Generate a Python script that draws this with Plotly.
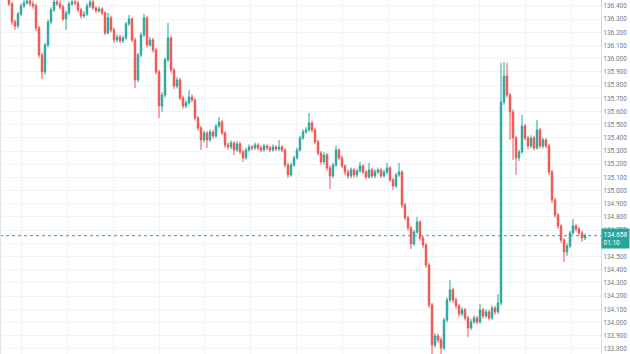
import plotly.graph_objects as go

opens = [
    136.600, 136.559, 136.521, 136.491, 136.415, 136.279, 136.248, 136.339, 136.400, 136.423,
    136.438, 136.415, 136.400, 136.233, 136.028, 135.900, 136.104, 136.279, 136.370, 136.430,
    136.415, 136.392, 136.301, 136.347, 136.415, 136.430, 136.423, 136.370, 136.324, 136.339,
    136.400, 136.430, 136.385, 136.362, 136.377, 136.347, 136.195, 136.309, 136.218, 136.142,
    136.165, 136.135, 136.157, 136.264, 136.301, 136.142, 135.839, 136.028, 136.180, 136.309,
    136.104, 136.142, 136.066, 135.900, 135.642, 135.725, 135.991, 136.157, 135.915, 135.793,
    135.839, 135.702, 135.642, 135.665, 135.710, 135.687, 135.551, 135.475, 135.384, 135.437,
    135.384, 135.445, 135.414, 135.490, 135.520, 135.437, 135.346, 135.331, 135.361, 135.308,
    135.354, 135.293, 135.248, 135.308, 135.331, 135.323, 135.346, 135.323, 135.308, 135.338,
    135.323, 135.308, 135.331, 135.316, 135.331, 135.308, 135.194, 135.119, 135.194, 135.248,
    135.308, 135.399, 135.445, 135.460, 135.513, 135.460, 135.369, 135.285, 135.217, 135.270,
    135.172, 135.111, 135.194, 135.308, 135.248, 135.187, 135.141, 135.111, 135.157, 135.119,
    135.149, 135.187, 135.141, 135.103, 135.157, 135.111, 135.141, 135.157, 135.111, 135.141,
    135.172, 135.081, 135.035, 135.119, 135.141, 134.891, 134.793, 134.717, 134.595, 134.686,
    134.762, 134.641, 134.588, 134.436, 134.133, 133.830, 133.898, 133.868, 133.807, 134.019,
    134.171, 134.247, 134.171, 134.126, 134.065, 134.095, 134.034, 133.959, 134.004, 134.034,
    134.004, 134.095, 134.050, 134.080, 134.034, 134.110, 134.080, 134.148, 135.672, 135.869,
    135.725, 135.596, 135.399, 135.248, 135.293, 135.490, 135.399, 135.338, 135.399, 135.323,
    135.460, 135.338, 135.384, 135.338, 135.141, 134.929, 134.815, 134.732, 134.626, 134.535,
    134.580, 134.679, 134.732, 134.709, 134.679, 134.641,
]

highs = [
    136.620, 136.575, 136.540, 136.505, 136.430, 136.295, 136.355, 136.420, 136.450, 136.470,
    136.460, 136.440, 136.420, 136.250, 136.045, 136.120, 136.295, 136.390, 136.460, 136.455,
    136.440, 136.410, 136.365, 136.435, 136.460, 136.465, 136.440, 136.385, 136.360, 136.420,
    136.460, 136.450, 136.400, 136.395, 136.390, 136.360, 136.347, 136.325, 136.235, 136.185,
    136.180, 136.175, 136.280, 136.332, 136.315, 136.160, 136.045, 136.200, 136.339, 136.325,
    136.165, 136.160, 136.080, 135.915, 135.745, 136.010, 136.271, 136.175, 135.930, 135.860,
    135.855, 135.720, 135.685, 135.763, 135.730, 135.700, 135.565, 135.490, 135.455, 135.450,
    135.465, 135.460, 135.505, 135.558, 135.535, 135.450, 135.365, 135.380, 135.375, 135.375,
    135.370, 135.310, 135.325, 135.350, 135.345, 135.365, 135.360, 135.340, 135.355, 135.350,
    135.340, 135.350, 135.345, 135.384, 135.345, 135.320, 135.210, 135.210, 135.265, 135.325,
    135.415, 135.465, 135.480, 135.589, 135.530, 135.475, 135.385, 135.300, 135.290, 135.285,
    135.190, 135.210, 135.338, 135.320, 135.265, 135.200, 135.160, 135.175, 135.170, 135.165,
    135.217, 135.200, 135.155, 135.210, 135.170, 135.160, 135.175, 135.170, 135.160, 135.210,
    135.185, 135.095, 135.135, 135.210, 135.155, 134.905, 134.810, 134.730, 134.700, 134.800,
    134.775, 134.655, 134.600, 134.450, 134.150, 133.920, 133.915, 133.885, 134.035, 134.190,
    134.323, 134.265, 134.190, 134.140, 134.115, 134.110, 134.050, 134.025, 134.055, 134.050,
    134.141, 134.110, 134.100, 134.095, 134.130, 134.125, 134.216, 135.968, 135.975, 135.968,
    135.740, 135.615, 135.415, 135.310, 135.574, 135.505, 135.415, 135.420, 135.415, 135.536,
    135.475, 135.400, 135.400, 135.355, 135.155, 134.945, 134.830, 134.745, 134.640, 134.600,
    134.695, 134.785, 134.750, 134.725, 134.695, 134.675,
]

lows = [
    136.540, 136.505, 136.470, 136.400, 136.255, 136.218, 136.230, 136.325, 136.385, 136.410,
    136.395, 136.380, 136.210, 136.005, 135.846, 135.880, 136.085, 136.260, 136.355, 136.400,
    136.375, 136.285, 136.218, 136.330, 136.400, 136.405, 136.350, 136.305, 136.310, 136.325,
    136.385, 136.370, 136.345, 136.350, 136.330, 136.180, 136.185, 136.200, 136.120, 136.125,
    136.115, 136.120, 136.145, 136.250, 136.125, 135.778, 135.820, 136.010, 136.165, 136.085,
    136.090, 136.045, 135.880, 135.551, 135.596, 135.705, 135.975, 135.895, 135.770, 135.775,
    135.685, 135.620, 135.625, 135.650, 135.670, 135.530, 135.455, 135.308, 135.365, 135.323,
    135.370, 135.395, 135.400, 135.475, 135.420, 135.325, 135.310, 135.315, 135.270, 135.295,
    135.275, 135.217, 135.235, 135.295, 135.305, 135.310, 135.305, 135.290, 135.295, 135.305,
    135.290, 135.295, 135.300, 135.300, 135.290, 135.175, 135.096, 135.105, 135.180, 135.235,
    135.295, 135.385, 135.430, 135.445, 135.440, 135.350, 135.265, 135.195, 135.200, 135.150,
    135.012, 135.095, 135.180, 135.230, 135.170, 135.120, 135.090, 135.095, 135.100, 135.100,
    135.135, 135.125, 135.085, 135.090, 135.095, 135.095, 135.125, 135.095, 135.100, 135.125,
    135.065, 135.005, 135.020, 135.105, 134.870, 134.775, 134.695, 134.558, 134.580, 134.670,
    134.620, 134.565, 134.415, 134.110, 133.746, 133.810, 133.845, 133.746, 133.790, 134.000,
    134.155, 134.150, 134.105, 134.045, 134.050, 134.015, 133.890, 133.940, 133.990, 133.985,
    133.990, 134.030, 134.035, 134.015, 134.020, 134.060, 134.065, 134.130, 135.650, 135.705,
    135.384, 135.232, 135.119, 135.225, 135.280, 135.380, 135.315, 135.320, 135.305, 135.310,
    135.320, 135.320, 135.320, 135.120, 134.905, 134.795, 134.710, 134.605, 134.459, 134.505,
    134.565, 134.665, 134.690, 134.660, 134.611, 134.625,
]

closes = [
    136.559, 136.521, 136.491, 136.415, 136.279, 136.248, 136.339, 136.400, 136.423, 136.438,
    136.415, 136.400, 136.233, 136.028, 135.900, 136.104, 136.279, 136.370, 136.430, 136.415,
    136.392, 136.301, 136.347, 136.415, 136.430, 136.423, 136.370, 136.324, 136.339, 136.400,
    136.430, 136.385, 136.362, 136.377, 136.347, 136.195, 136.309, 136.218, 136.142, 136.165,
    136.135, 136.157, 136.264, 136.301, 136.142, 135.839, 136.028, 136.180, 136.309, 136.104,
    136.142, 136.066, 135.900, 135.642, 135.725, 135.991, 136.157, 135.915, 135.793, 135.839,
    135.702, 135.642, 135.665, 135.710, 135.687, 135.551, 135.475, 135.384, 135.437, 135.384,
    135.445, 135.414, 135.490, 135.520, 135.437, 135.346, 135.331, 135.361, 135.308, 135.354,
    135.293, 135.248, 135.308, 135.331, 135.323, 135.346, 135.323, 135.308, 135.338, 135.323,
    135.308, 135.331, 135.316, 135.331, 135.308, 135.194, 135.119, 135.194, 135.248, 135.308,
    135.399, 135.445, 135.460, 135.513, 135.460, 135.369, 135.285, 135.217, 135.270, 135.172,
    135.111, 135.194, 135.308, 135.248, 135.187, 135.141, 135.111, 135.157, 135.119, 135.149,
    135.187, 135.141, 135.103, 135.157, 135.111, 135.141, 135.157, 135.111, 135.141, 135.172,
    135.081, 135.035, 135.119, 135.141, 134.891, 134.793, 134.717, 134.595, 134.686, 134.762,
    134.641, 134.588, 134.436, 134.133, 133.830, 133.898, 133.868, 133.807, 134.019, 134.171,
    134.247, 134.171, 134.126, 134.065, 134.095, 134.034, 133.959, 134.004, 134.034, 134.004,
    134.095, 134.050, 134.080, 134.034, 134.110, 134.080, 134.148, 135.672, 135.869, 135.725,
    135.596, 135.399, 135.248, 135.293, 135.490, 135.399, 135.338, 135.399, 135.323, 135.460,
    135.338, 135.384, 135.338, 135.141, 134.929, 134.815, 134.732, 134.626, 134.535, 134.580,
    134.679, 134.732, 134.709, 134.679, 134.641, 134.658,
]

bar_index = list(range(len(closes)))
last_price = 134.658
last_label = "134.658<br>01:10"

UP = "#26a69a"
DOWN = "#ef5350"

fig = go.Figure()
fig.add_trace(go.Candlestick(
    x=bar_index, open=opens, high=highs, low=lows, close=closes,
    increasing=dict(line=dict(color=UP, width=1), fillcolor=UP),
    decreasing=dict(line=dict(color=DOWN, width=1), fillcolor=DOWN),
    whiskerwidth=0, showlegend=False, hoverinfo="skip",
))

fig.add_shape(type="line", xref="paper", x0=0, x1=1, yref="y",
              y0=last_price, y1=last_price,
              line=dict(color=UP, width=1, dash="dot"))
fig.add_shape(type="line", xref="paper", x0=0, x1=0, yref="paper", y0=0, y1=1,
              line=dict(color="#e0e3eb", width=2))

fig.add_annotation(
    xref="paper", x=1.0, xanchor="left", yref="y", y=last_price, yanchor="middle",
    yshift=-3, text=last_label, showarrow=False, align="left",
    font=dict(family="Roboto", size=6.5, color="white"),
    bgcolor=UP, borderpad=1.5,
)

fig.update_layout(
    width=630, height=354,
    margin=dict(l=0, r=29, t=0, b=0),
    paper_bgcolor="white", plot_bgcolor="white",
    font=dict(family="Roboto", size=7, color="#787b86"),
    xaxis=dict(
        range=[0, 200.33], rangeslider=dict(visible=False),
        showticklabels=False, showgrid=True, gridcolor="#f0f3fa", gridwidth=1,
        tickmode="linear", tick0=7.33, dtick=15.25, zeroline=False, showline=False,
    ),
    yaxis=dict(
        side="right", range=[133.761, 136.445],
        tickmode="linear", tick0=133.8, dtick=0.1, tickformat=".3f",
        showgrid=True, gridcolor="#f0f3fa", gridwidth=1, zeroline=False,
        showline=True, linecolor="#d6d9e0", linewidth=1,
        ticks="", tickfont=dict(size=6.5, color="#787b86"),
    ),
)

fig.write_html("out.html")
